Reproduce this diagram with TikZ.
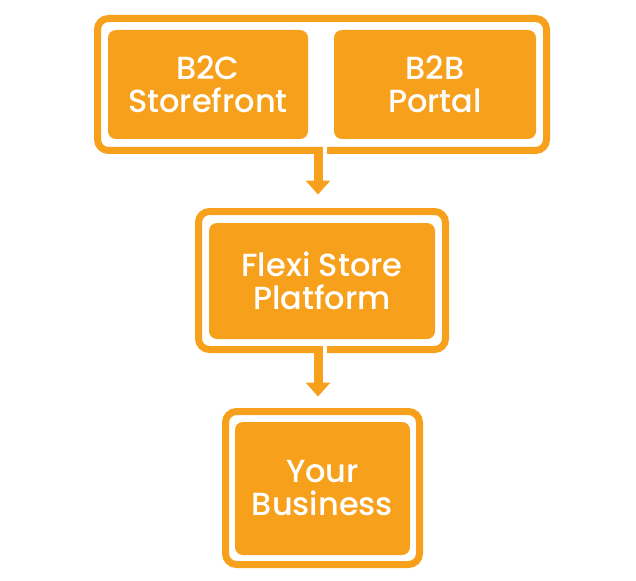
\documentclass[tikz,border=0pt]{standalone}
\usepackage{fontspec}
\setmainfont{Poppins}[UprightFont={* Medium}]
\usetikzlibrary{arrows.meta}
\definecolor{org}{RGB}{246,160,28}
\tikzset{
  inbox/.style={fill=org, rounded corners=8pt, text=white, align=center,
    font=\fontsize{32}{33}\selectfont, inner sep=0pt, outer sep=0pt},
  frame/.style={draw=org, line width=7pt, rounded corners=11pt, inner sep=0pt, outer sep=0pt},
  conn/.style={draw=org, line width=9pt, -{Triangle[width=24pt,length=14pt]}},
  gap/.style={fill=white, draw=none}
}
\begin{document}
\begin{tikzpicture}[x=1pt,y=-1pt]
\useasboundingbox[fill=white] (0,0) rectangle (636,580);
% frames
\node[frame, minimum width=449pt, minimum height=132pt] (top) at (322,84.5) {};
\node[frame, minimum width=247pt, minimum height=138pt] (mid) at (322,280.5) {};
\node[frame, minimum width=194pt, minimum height=153pt] (bot) at (322.5,488) {};
% inner boxes
\node[inbox, minimum width=200pt, minimum height=109pt] (b2c) at (208,84.5) {B2C\\Storefront};
\node[inbox, minimum width=202pt, minimum height=109pt] (b2b) at (435,84.5) {B2B\\Portal};
\node[inbox, minimum width=226pt, minimum height=116pt] (flexi) at (322,281) {Flexi Store\\Platform};
\node[inbox, minimum width=175pt, minimum height=133pt] (biz) at (322.5,488.5) {Your\\Business};
% connectors
\draw[conn, shorten >=17pt] ([xshift=-4pt]top.south) -- ([xshift=-4pt]mid.north);
\draw[conn, shorten >=15pt] ([xshift=-4pt]mid.south) -- ([xshift=-4.5pt]bot.north);
% gaps in frame lines
\fill[gap] ([xshift=1pt,yshift=-5pt]top.south) rectangle ([xshift=5pt,yshift=5pt]top.south);
\fill[gap] ([xshift=1pt,yshift=-5pt]mid.south) rectangle ([xshift=5pt,yshift=5pt]mid.south);
\end{tikzpicture}
\end{document}
